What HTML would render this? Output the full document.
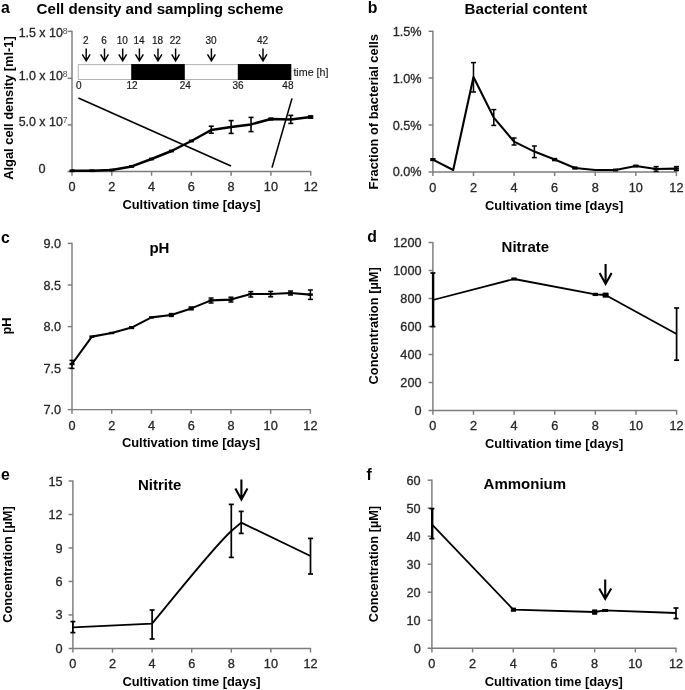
<!DOCTYPE html>
<html lang="en">
<head>
<meta charset="utf-8">
<title>Cultivation figure</title>
<style>
html,body{margin:0;padding:0;background:#fff;}
body{width:685px;height:690px;overflow:hidden;}
svg{display:block;font-family:"Liberation Sans",Arial,Helvetica,sans-serif;}
</style>
</head>
<body>
<svg width="685" height="690" viewBox="0 0 685 690">
<defs><filter id="soft" x="0" y="0" width="100%" height="100%" filterUnits="userSpaceOnUse"><feGaussianBlur stdDeviation="0.48"/></filter></defs>
<rect x="0" y="0" width="685" height="690" fill="#ffffff"/>
<g filter="url(#soft)">
<text x="0.90" y="12.60" font-size="15.8" text-anchor="start" font-weight="bold" fill="#000" >a</text>
<text x="36.60" y="13.60" font-size="15.12" text-anchor="start" font-weight="bold" fill="#000" >Cell density and sampling scheme</text>
<line x1="72.00" y1="30.80" x2="72.00" y2="175.70" stroke="#7c7c7c" stroke-width="1.45" />
<line x1="67.70" y1="171.50" x2="311.30" y2="171.50" stroke="#7c7c7c" stroke-width="1.45" />
<line x1="67.70" y1="31.40" x2="72.00" y2="31.40" stroke="#7c7c7c" stroke-width="1.45" />
<line x1="67.70" y1="78.30" x2="72.00" y2="78.30" stroke="#7c7c7c" stroke-width="1.45" />
<line x1="67.70" y1="124.90" x2="72.00" y2="124.90" stroke="#7c7c7c" stroke-width="1.45" />
<text x="72.00" y="191.15" font-size="12.7" text-anchor="middle" stroke="#262626" stroke-width="0.3" fill="#262626" >0</text>
<line x1="111.78" y1="171.50" x2="111.78" y2="175.70" stroke="#7c7c7c" stroke-width="1.45" />
<text x="111.78" y="191.15" font-size="12.7" text-anchor="middle" stroke="#262626" stroke-width="0.3" fill="#262626" >2</text>
<line x1="151.57" y1="171.50" x2="151.57" y2="175.70" stroke="#7c7c7c" stroke-width="1.45" />
<text x="151.57" y="191.15" font-size="12.7" text-anchor="middle" stroke="#262626" stroke-width="0.3" fill="#262626" >4</text>
<line x1="191.35" y1="171.50" x2="191.35" y2="175.70" stroke="#7c7c7c" stroke-width="1.45" />
<text x="191.35" y="191.15" font-size="12.7" text-anchor="middle" stroke="#262626" stroke-width="0.3" fill="#262626" >6</text>
<line x1="231.13" y1="171.50" x2="231.13" y2="175.70" stroke="#7c7c7c" stroke-width="1.45" />
<text x="231.13" y="191.15" font-size="12.7" text-anchor="middle" stroke="#262626" stroke-width="0.3" fill="#262626" >8</text>
<line x1="270.92" y1="171.50" x2="270.92" y2="175.70" stroke="#7c7c7c" stroke-width="1.45" />
<text x="270.92" y="191.15" font-size="12.7" text-anchor="middle" stroke="#262626" stroke-width="0.3" fill="#262626" >10</text>
<line x1="310.70" y1="171.50" x2="310.70" y2="175.70" stroke="#7c7c7c" stroke-width="1.45" />
<text x="310.70" y="191.15" font-size="12.7" text-anchor="middle" stroke="#262626" stroke-width="0.3" fill="#262626" >12</text>
<text x="18.7" y="37.00" font-size="12.4" fill="#262626" stroke="#262626" stroke-width="0.3">1.5 x 10<tspan font-size="8.6" dy="-2.9" fill="#4a4a4a" stroke="none">8</tspan></text>
<text x="18.7" y="79.70" font-size="12.4" fill="#262626" stroke="#262626" stroke-width="0.3">1.0 x 10<tspan font-size="8.6" dy="-2.9" fill="#4a4a4a" stroke="none">8</tspan></text>
<text x="18.7" y="126.10" font-size="12.4" fill="#262626" stroke="#262626" stroke-width="0.3">5.0 x 10<tspan font-size="8.6" dy="-2.9" fill="#4a4a4a" stroke="none">7</tspan></text>
<text x="45.60" y="172.80" font-size="12.7" text-anchor="end" stroke="#262626" stroke-width="0.3" fill="#262626" >0</text>
<text transform="translate(13.30,108.00) rotate(-90)" font-size="12.85" text-anchor="middle" font-weight="bold" fill="#000">Algal cell density [ml-1]</text>
<text x="191.50" y="208.80" font-size="12.9" text-anchor="middle" font-weight="bold" fill="#000" >Cultivation time [days]</text>
<line x1="78.40" y1="98.00" x2="231.00" y2="166.00" stroke="#000" stroke-width="1.6" />
<line x1="292.00" y1="98.40" x2="272.00" y2="167.60" stroke="#000" stroke-width="1.6" />
<path d="M72.00,170.80 L91.89,170.70 L111.78,170.00 L131.68,166.40 L151.57,159.00 L171.46,151.00 L191.35,141.00 L211.24,130.00 L231.13,127.00 L251.02,124.40 L270.92,119.00 L290.81,119.40 L310.70,117.00" fill="none" stroke="#000" stroke-width="2.5" stroke-linejoin="round" stroke-linecap="butt"/>
<rect x="69.50" y="169.40" width="5" height="2.8" fill="#000"/>
<rect x="89.39" y="169.30" width="5" height="2.8" fill="#000"/>
<rect x="109.28" y="168.60" width="5" height="2.8" fill="#000"/>
<rect x="129.18" y="165.00" width="5" height="2.8" fill="#000"/>
<rect x="149.07" y="157.60" width="5" height="2.8" fill="#000"/>
<rect x="168.96" y="149.60" width="5" height="2.8" fill="#000"/>
<rect x="188.85" y="139.60" width="5" height="2.8" fill="#000"/>
<rect x="268.42" y="117.60" width="5" height="2.8" fill="#000"/>
<rect x="308.20" y="115.60" width="5" height="2.8" fill="#000"/>
<line x1="211.24" y1="126.20" x2="211.24" y2="133.20" stroke="#000" stroke-width="1.6" />
<line x1="208.74" y1="126.20" x2="213.74" y2="126.20" stroke="#000" stroke-width="1.6" />
<line x1="208.74" y1="133.20" x2="213.74" y2="133.20" stroke="#000" stroke-width="1.6" />
<line x1="231.13" y1="120.60" x2="231.13" y2="133.40" stroke="#000" stroke-width="1.6" />
<line x1="228.63" y1="120.60" x2="233.63" y2="120.60" stroke="#000" stroke-width="1.6" />
<line x1="228.63" y1="133.40" x2="233.63" y2="133.40" stroke="#000" stroke-width="1.6" />
<line x1="251.02" y1="117.40" x2="251.02" y2="131.60" stroke="#000" stroke-width="1.6" />
<line x1="248.52" y1="117.40" x2="253.52" y2="117.40" stroke="#000" stroke-width="1.6" />
<line x1="248.52" y1="131.60" x2="253.52" y2="131.60" stroke="#000" stroke-width="1.6" />
<line x1="270.92" y1="118.40" x2="270.92" y2="119.60" stroke="#000" stroke-width="1.6" />
<line x1="268.42" y1="118.40" x2="273.42" y2="118.40" stroke="#000" stroke-width="1.6" />
<line x1="268.42" y1="119.60" x2="273.42" y2="119.60" stroke="#000" stroke-width="1.6" />
<line x1="290.81" y1="115.40" x2="290.81" y2="123.40" stroke="#000" stroke-width="1.6" />
<line x1="288.31" y1="115.40" x2="293.31" y2="115.40" stroke="#000" stroke-width="1.6" />
<line x1="288.31" y1="123.40" x2="293.31" y2="123.40" stroke="#000" stroke-width="1.6" />
<line x1="310.70" y1="115.90" x2="310.70" y2="118.10" stroke="#000" stroke-width="1.6" />
<line x1="308.20" y1="115.90" x2="313.20" y2="115.90" stroke="#000" stroke-width="1.6" />
<line x1="308.20" y1="118.10" x2="313.20" y2="118.10" stroke="#000" stroke-width="1.6" />
<rect x="78.3" y="64.6" width="212.7" height="14.9" fill="#fff" stroke="#b4b4b4" stroke-width="1"/>
<rect x="131.2" y="64.1" width="53.6" height="15.9" fill="#000"/>
<rect x="237.8" y="64.1" width="53.4" height="15.9" fill="#000"/>
<text x="78.90" y="89.00" font-size="10" text-anchor="middle" stroke="#1a1a1a" stroke-width="0.2" fill="#1a1a1a" >0</text>
<text x="132.00" y="89.00" font-size="10" text-anchor="middle" stroke="#1a1a1a" stroke-width="0.2" fill="#1a1a1a" >12</text>
<text x="185.30" y="89.00" font-size="10" text-anchor="middle" stroke="#1a1a1a" stroke-width="0.2" fill="#1a1a1a" >24</text>
<text x="238.00" y="89.00" font-size="10" text-anchor="middle" stroke="#1a1a1a" stroke-width="0.2" fill="#1a1a1a" >36</text>
<text x="287.90" y="89.00" font-size="10" text-anchor="middle" stroke="#1a1a1a" stroke-width="0.2" fill="#1a1a1a" >48</text>
<text x="85.80" y="43.50" font-size="10" text-anchor="middle" stroke="#1a1a1a" stroke-width="0.2" fill="#1a1a1a" >2</text>
<path d="M86.20,48.40 L86.20,60.30 M82.30,54.40 L86.20,60.90 L90.10,54.40" fill="none" stroke="#000" stroke-width="1.45" stroke-linejoin="miter" stroke-linecap="butt"/>
<text x="104.10" y="43.50" font-size="10" text-anchor="middle" stroke="#1a1a1a" stroke-width="0.2" fill="#1a1a1a" >6</text>
<path d="M104.50,48.40 L104.50,60.30 M100.60,54.40 L104.50,60.90 L108.40,54.40" fill="none" stroke="#000" stroke-width="1.45" stroke-linejoin="miter" stroke-linecap="butt"/>
<text x="122.30" y="43.50" font-size="10" text-anchor="middle" stroke="#1a1a1a" stroke-width="0.2" fill="#1a1a1a" >10</text>
<path d="M122.70,48.40 L122.70,60.30 M118.80,54.40 L122.70,60.90 L126.60,54.40" fill="none" stroke="#000" stroke-width="1.45" stroke-linejoin="miter" stroke-linecap="butt"/>
<text x="139.00" y="43.50" font-size="10" text-anchor="middle" stroke="#1a1a1a" stroke-width="0.2" fill="#1a1a1a" >14</text>
<path d="M139.40,48.40 L139.40,60.30 M135.50,54.40 L139.40,60.90 L143.30,54.40" fill="none" stroke="#000" stroke-width="1.45" stroke-linejoin="miter" stroke-linecap="butt"/>
<text x="157.60" y="43.50" font-size="10" text-anchor="middle" stroke="#1a1a1a" stroke-width="0.2" fill="#1a1a1a" >18</text>
<path d="M158.00,48.40 L158.00,60.30 M154.10,54.40 L158.00,60.90 L161.90,54.40" fill="none" stroke="#000" stroke-width="1.45" stroke-linejoin="miter" stroke-linecap="butt"/>
<text x="175.20" y="43.50" font-size="10" text-anchor="middle" stroke="#1a1a1a" stroke-width="0.2" fill="#1a1a1a" >22</text>
<path d="M175.60,48.40 L175.60,60.30 M171.70,54.40 L175.60,60.90 L179.50,54.40" fill="none" stroke="#000" stroke-width="1.45" stroke-linejoin="miter" stroke-linecap="butt"/>
<text x="211.00" y="43.50" font-size="10" text-anchor="middle" stroke="#1a1a1a" stroke-width="0.2" fill="#1a1a1a" >30</text>
<path d="M211.40,48.40 L211.40,60.30 M207.50,54.40 L211.40,60.90 L215.30,54.40" fill="none" stroke="#000" stroke-width="1.45" stroke-linejoin="miter" stroke-linecap="butt"/>
<text x="262.60" y="43.50" font-size="10" text-anchor="middle" stroke="#1a1a1a" stroke-width="0.2" fill="#1a1a1a" >42</text>
<path d="M263.00,48.40 L263.00,60.30 M259.10,54.40 L263.00,60.90 L266.90,54.40" fill="none" stroke="#000" stroke-width="1.45" stroke-linejoin="miter" stroke-linecap="butt"/>
<text x="293.40" y="75.90" font-size="10.7" text-anchor="start" stroke="#1a1a1a" stroke-width="0.15" fill="#1a1a1a" >time [h]</text>
<text x="367.70" y="12.70" font-size="15.8" text-anchor="start" font-weight="bold" fill="#000" >b</text>
<text x="464.60" y="13.60" font-size="15.12" text-anchor="start" font-weight="bold" fill="#000" >Bacterial content</text>
<line x1="432.90" y1="30.70" x2="432.90" y2="176.10" stroke="#7c7c7c" stroke-width="1.45" />
<line x1="428.60" y1="171.90" x2="677.00" y2="171.90" stroke="#7c7c7c" stroke-width="1.45" />
<line x1="428.60" y1="31.30" x2="432.90" y2="31.30" stroke="#7c7c7c" stroke-width="1.45" />
<text x="421.60" y="35.85" font-size="12.7" text-anchor="end" stroke="#262626" stroke-width="0.3" fill="#262626" >1.5%</text>
<line x1="428.60" y1="78.00" x2="432.90" y2="78.00" stroke="#7c7c7c" stroke-width="1.45" />
<text x="421.60" y="82.55" font-size="12.7" text-anchor="end" stroke="#262626" stroke-width="0.3" fill="#262626" >1.0%</text>
<line x1="428.60" y1="125.00" x2="432.90" y2="125.00" stroke="#7c7c7c" stroke-width="1.45" />
<text x="421.60" y="129.55" font-size="12.7" text-anchor="end" stroke="#262626" stroke-width="0.3" fill="#262626" >0.5%</text>
<text x="421.60" y="176.45" font-size="12.7" text-anchor="end" stroke="#262626" stroke-width="0.3" fill="#262626" >0.0%</text>
<text x="432.90" y="191.65" font-size="12.7" text-anchor="middle" stroke="#262626" stroke-width="0.3" fill="#262626" >0</text>
<line x1="473.48" y1="171.90" x2="473.48" y2="176.10" stroke="#7c7c7c" stroke-width="1.45" />
<text x="473.48" y="191.65" font-size="12.7" text-anchor="middle" stroke="#262626" stroke-width="0.3" fill="#262626" >2</text>
<line x1="514.07" y1="171.90" x2="514.07" y2="176.10" stroke="#7c7c7c" stroke-width="1.45" />
<text x="514.07" y="191.65" font-size="12.7" text-anchor="middle" stroke="#262626" stroke-width="0.3" fill="#262626" >4</text>
<line x1="554.65" y1="171.90" x2="554.65" y2="176.10" stroke="#7c7c7c" stroke-width="1.45" />
<text x="554.65" y="191.65" font-size="12.7" text-anchor="middle" stroke="#262626" stroke-width="0.3" fill="#262626" >6</text>
<line x1="595.23" y1="171.90" x2="595.23" y2="176.10" stroke="#7c7c7c" stroke-width="1.45" />
<text x="595.23" y="191.65" font-size="12.7" text-anchor="middle" stroke="#262626" stroke-width="0.3" fill="#262626" >8</text>
<line x1="635.82" y1="171.90" x2="635.82" y2="176.10" stroke="#7c7c7c" stroke-width="1.45" />
<text x="635.82" y="191.65" font-size="12.7" text-anchor="middle" stroke="#262626" stroke-width="0.3" fill="#262626" >10</text>
<line x1="676.40" y1="171.90" x2="676.40" y2="176.10" stroke="#7c7c7c" stroke-width="1.45" />
<text x="676.40" y="191.65" font-size="12.7" text-anchor="middle" stroke="#262626" stroke-width="0.3" fill="#262626" >12</text>
<text transform="translate(378.10,111.70) rotate(-90)" font-size="12.9" text-anchor="middle" font-weight="bold" fill="#000">Fraction of bacterial cells</text>
<text x="554.20" y="209.60" font-size="12.9" text-anchor="middle" font-weight="bold" fill="#000" >Cultivation time [days]</text>
<path d="M432.90,159.60 L453.19,170.00 L473.48,77.00 L493.77,117.60 L514.07,141.60 L534.36,151.60 L554.65,159.60 L574.94,168.00 L595.23,170.00 L615.52,170.00 L635.82,166.00 L656.11,169.00 L676.40,168.60" fill="none" stroke="#000" stroke-width="2.1" stroke-linejoin="round" stroke-linecap="butt"/>
<rect x="430.40" y="158.40" width="5" height="2.4" fill="#000"/>
<rect x="552.15" y="158.40" width="5" height="2.4" fill="#000"/>
<rect x="572.44" y="166.80" width="5" height="2.4" fill="#000"/>
<rect x="613.02" y="168.80" width="5" height="2.4" fill="#000"/>
<rect x="633.32" y="164.80" width="5" height="2.4" fill="#000"/>
<rect x="653.61" y="167.80" width="5" height="2.4" fill="#000"/>
<rect x="673.90" y="167.40" width="5" height="2.4" fill="#000"/>
<line x1="432.90" y1="158.80" x2="432.90" y2="160.40" stroke="#000" stroke-width="1.5" />
<line x1="430.40" y1="158.80" x2="435.40" y2="158.80" stroke="#000" stroke-width="1.5" />
<line x1="430.40" y1="160.40" x2="435.40" y2="160.40" stroke="#000" stroke-width="1.5" />
<line x1="473.48" y1="62.60" x2="473.48" y2="92.00" stroke="#000" stroke-width="1.5" />
<line x1="470.98" y1="62.60" x2="475.98" y2="62.60" stroke="#000" stroke-width="1.5" />
<line x1="470.98" y1="92.00" x2="475.98" y2="92.00" stroke="#000" stroke-width="1.5" />
<line x1="493.77" y1="109.60" x2="493.77" y2="125.40" stroke="#000" stroke-width="1.5" />
<line x1="491.27" y1="109.60" x2="496.27" y2="109.60" stroke="#000" stroke-width="1.5" />
<line x1="491.27" y1="125.40" x2="496.27" y2="125.40" stroke="#000" stroke-width="1.5" />
<line x1="514.07" y1="138.00" x2="514.07" y2="145.00" stroke="#000" stroke-width="1.5" />
<line x1="511.57" y1="138.00" x2="516.57" y2="138.00" stroke="#000" stroke-width="1.5" />
<line x1="511.57" y1="145.00" x2="516.57" y2="145.00" stroke="#000" stroke-width="1.5" />
<line x1="534.36" y1="146.00" x2="534.36" y2="157.60" stroke="#000" stroke-width="1.5" />
<line x1="531.86" y1="146.00" x2="536.86" y2="146.00" stroke="#000" stroke-width="1.5" />
<line x1="531.86" y1="157.60" x2="536.86" y2="157.60" stroke="#000" stroke-width="1.5" />
<line x1="554.65" y1="158.60" x2="554.65" y2="160.60" stroke="#000" stroke-width="1.5" />
<line x1="552.15" y1="158.60" x2="557.15" y2="158.60" stroke="#000" stroke-width="1.5" />
<line x1="552.15" y1="160.60" x2="557.15" y2="160.60" stroke="#000" stroke-width="1.5" />
<line x1="574.94" y1="167.20" x2="574.94" y2="168.80" stroke="#000" stroke-width="1.5" />
<line x1="572.44" y1="167.20" x2="577.44" y2="167.20" stroke="#000" stroke-width="1.5" />
<line x1="572.44" y1="168.80" x2="577.44" y2="168.80" stroke="#000" stroke-width="1.5" />
<line x1="615.52" y1="169.40" x2="615.52" y2="170.60" stroke="#000" stroke-width="1.5" />
<line x1="613.02" y1="169.40" x2="618.02" y2="169.40" stroke="#000" stroke-width="1.5" />
<line x1="613.02" y1="170.60" x2="618.02" y2="170.60" stroke="#000" stroke-width="1.5" />
<line x1="635.82" y1="165.40" x2="635.82" y2="166.60" stroke="#000" stroke-width="1.5" />
<line x1="633.32" y1="165.40" x2="638.32" y2="165.40" stroke="#000" stroke-width="1.5" />
<line x1="633.32" y1="166.60" x2="638.32" y2="166.60" stroke="#000" stroke-width="1.5" />
<line x1="656.11" y1="166.60" x2="656.11" y2="171.40" stroke="#000" stroke-width="1.5" />
<line x1="653.61" y1="166.60" x2="658.61" y2="166.60" stroke="#000" stroke-width="1.5" />
<line x1="653.61" y1="171.40" x2="658.61" y2="171.40" stroke="#000" stroke-width="1.5" />
<line x1="676.40" y1="166.60" x2="676.40" y2="170.60" stroke="#000" stroke-width="1.5" />
<line x1="673.90" y1="166.60" x2="678.90" y2="166.60" stroke="#000" stroke-width="1.5" />
<line x1="673.90" y1="170.60" x2="678.90" y2="170.60" stroke="#000" stroke-width="1.5" />
<text x="0.90" y="242.60" font-size="15.8" text-anchor="start" font-weight="bold" fill="#000" >c</text>
<text x="149.40" y="253.00" font-size="15" text-anchor="start" font-weight="bold" fill="#000" >pH</text>
<line x1="72.00" y1="242.80" x2="72.00" y2="413.80" stroke="#7c7c7c" stroke-width="1.45" />
<line x1="67.70" y1="409.60" x2="311.00" y2="409.60" stroke="#7c7c7c" stroke-width="1.45" />
<line x1="67.70" y1="243.40" x2="72.00" y2="243.40" stroke="#7c7c7c" stroke-width="1.45" />
<text x="61.10" y="247.95" font-size="12.7" text-anchor="end" stroke="#262626" stroke-width="0.3" fill="#262626" >9.0</text>
<line x1="67.70" y1="285.00" x2="72.00" y2="285.00" stroke="#7c7c7c" stroke-width="1.45" />
<text x="61.10" y="289.55" font-size="12.7" text-anchor="end" stroke="#262626" stroke-width="0.3" fill="#262626" >8.5</text>
<line x1="67.70" y1="326.60" x2="72.00" y2="326.60" stroke="#7c7c7c" stroke-width="1.45" />
<text x="61.10" y="331.15" font-size="12.7" text-anchor="end" stroke="#262626" stroke-width="0.3" fill="#262626" >8.0</text>
<line x1="67.70" y1="368.10" x2="72.00" y2="368.10" stroke="#7c7c7c" stroke-width="1.45" />
<text x="61.10" y="372.65" font-size="12.7" text-anchor="end" stroke="#262626" stroke-width="0.3" fill="#262626" >7.5</text>
<text x="61.10" y="414.15" font-size="12.7" text-anchor="end" stroke="#262626" stroke-width="0.3" fill="#262626" >7.0</text>
<text x="72.00" y="430.20" font-size="12.7" text-anchor="middle" stroke="#262626" stroke-width="0.3" fill="#262626" >0</text>
<line x1="111.73" y1="409.60" x2="111.73" y2="413.80" stroke="#7c7c7c" stroke-width="1.45" />
<text x="111.73" y="430.20" font-size="12.7" text-anchor="middle" stroke="#262626" stroke-width="0.3" fill="#262626" >2</text>
<line x1="151.47" y1="409.60" x2="151.47" y2="413.80" stroke="#7c7c7c" stroke-width="1.45" />
<text x="151.47" y="430.20" font-size="12.7" text-anchor="middle" stroke="#262626" stroke-width="0.3" fill="#262626" >4</text>
<line x1="191.20" y1="409.60" x2="191.20" y2="413.80" stroke="#7c7c7c" stroke-width="1.45" />
<text x="191.20" y="430.20" font-size="12.7" text-anchor="middle" stroke="#262626" stroke-width="0.3" fill="#262626" >6</text>
<line x1="230.93" y1="409.60" x2="230.93" y2="413.80" stroke="#7c7c7c" stroke-width="1.45" />
<text x="230.93" y="430.20" font-size="12.7" text-anchor="middle" stroke="#262626" stroke-width="0.3" fill="#262626" >8</text>
<line x1="270.67" y1="409.60" x2="270.67" y2="413.80" stroke="#7c7c7c" stroke-width="1.45" />
<text x="270.67" y="430.20" font-size="12.7" text-anchor="middle" stroke="#262626" stroke-width="0.3" fill="#262626" >10</text>
<line x1="310.40" y1="409.60" x2="310.40" y2="413.80" stroke="#7c7c7c" stroke-width="1.45" />
<text x="310.40" y="430.20" font-size="12.7" text-anchor="middle" stroke="#262626" stroke-width="0.3" fill="#262626" >12</text>
<text transform="translate(10.80,326.00) rotate(-90)" font-size="12.9" text-anchor="middle" font-weight="bold" fill="#000">pH</text>
<text x="191.00" y="447.40" font-size="12.9" text-anchor="middle" font-weight="bold" fill="#000" >Cultivation time [days]</text>
<path d="M72.00,364.00 L91.87,336.60 L111.73,333.00 L131.60,327.60 L151.47,317.40 L171.33,315.00 L191.20,308.40 L211.07,300.40 L230.93,299.60 L250.80,294.00 L270.67,294.00 L290.53,293.00 L310.40,294.60" fill="none" stroke="#000" stroke-width="2.1" stroke-linejoin="round" stroke-linecap="butt"/>
<rect x="69.50" y="362.80" width="5" height="2.4" fill="#000"/>
<rect x="89.37" y="335.40" width="5" height="2.4" fill="#000"/>
<rect x="109.23" y="331.80" width="5" height="2.4" fill="#000"/>
<rect x="129.10" y="326.40" width="5" height="2.4" fill="#000"/>
<rect x="148.97" y="316.20" width="5" height="2.4" fill="#000"/>
<rect x="168.83" y="313.80" width="5" height="2.4" fill="#000"/>
<rect x="188.70" y="307.20" width="5" height="2.4" fill="#000"/>
<rect x="208.57" y="299.20" width="5" height="2.4" fill="#000"/>
<rect x="228.43" y="298.40" width="5" height="2.4" fill="#000"/>
<rect x="248.30" y="292.80" width="5" height="2.4" fill="#000"/>
<rect x="268.17" y="292.80" width="5" height="2.4" fill="#000"/>
<rect x="288.03" y="291.80" width="5" height="2.4" fill="#000"/>
<rect x="307.90" y="293.40" width="5" height="2.4" fill="#000"/>
<line x1="72.00" y1="360.40" x2="72.00" y2="368.40" stroke="#000" stroke-width="1.5" />
<line x1="69.50" y1="360.40" x2="74.50" y2="360.40" stroke="#000" stroke-width="1.5" />
<line x1="69.50" y1="368.40" x2="74.50" y2="368.40" stroke="#000" stroke-width="1.5" />
<line x1="131.60" y1="326.80" x2="131.60" y2="328.40" stroke="#000" stroke-width="1.5" />
<line x1="129.10" y1="326.80" x2="134.10" y2="326.80" stroke="#000" stroke-width="1.5" />
<line x1="129.10" y1="328.40" x2="134.10" y2="328.40" stroke="#000" stroke-width="1.5" />
<line x1="171.33" y1="313.60" x2="171.33" y2="316.40" stroke="#000" stroke-width="1.5" />
<line x1="168.83" y1="313.60" x2="173.83" y2="313.60" stroke="#000" stroke-width="1.5" />
<line x1="168.83" y1="316.40" x2="173.83" y2="316.40" stroke="#000" stroke-width="1.5" />
<line x1="191.20" y1="307.00" x2="191.20" y2="309.80" stroke="#000" stroke-width="1.5" />
<line x1="188.70" y1="307.00" x2="193.70" y2="307.00" stroke="#000" stroke-width="1.5" />
<line x1="188.70" y1="309.80" x2="193.70" y2="309.80" stroke="#000" stroke-width="1.5" />
<line x1="211.07" y1="298.00" x2="211.07" y2="303.00" stroke="#000" stroke-width="1.5" />
<line x1="208.57" y1="298.00" x2="213.57" y2="298.00" stroke="#000" stroke-width="1.5" />
<line x1="208.57" y1="303.00" x2="213.57" y2="303.00" stroke="#000" stroke-width="1.5" />
<line x1="230.93" y1="297.20" x2="230.93" y2="302.00" stroke="#000" stroke-width="1.5" />
<line x1="228.43" y1="297.20" x2="233.43" y2="297.20" stroke="#000" stroke-width="1.5" />
<line x1="228.43" y1="302.00" x2="233.43" y2="302.00" stroke="#000" stroke-width="1.5" />
<line x1="250.80" y1="291.60" x2="250.80" y2="297.00" stroke="#000" stroke-width="1.5" />
<line x1="248.30" y1="291.60" x2="253.30" y2="291.60" stroke="#000" stroke-width="1.5" />
<line x1="248.30" y1="297.00" x2="253.30" y2="297.00" stroke="#000" stroke-width="1.5" />
<line x1="270.67" y1="291.40" x2="270.67" y2="296.80" stroke="#000" stroke-width="1.5" />
<line x1="268.17" y1="291.40" x2="273.17" y2="291.40" stroke="#000" stroke-width="1.5" />
<line x1="268.17" y1="296.80" x2="273.17" y2="296.80" stroke="#000" stroke-width="1.5" />
<line x1="290.53" y1="291.00" x2="290.53" y2="295.00" stroke="#000" stroke-width="1.5" />
<line x1="288.03" y1="291.00" x2="293.03" y2="291.00" stroke="#000" stroke-width="1.5" />
<line x1="288.03" y1="295.00" x2="293.03" y2="295.00" stroke="#000" stroke-width="1.5" />
<line x1="310.40" y1="290.00" x2="310.40" y2="299.40" stroke="#000" stroke-width="1.5" />
<line x1="307.90" y1="290.00" x2="312.90" y2="290.00" stroke="#000" stroke-width="1.5" />
<line x1="307.90" y1="299.40" x2="312.90" y2="299.40" stroke="#000" stroke-width="1.5" />
<text x="367.20" y="241.90" font-size="15.8" text-anchor="start" font-weight="bold" fill="#000" >d</text>
<text x="501.60" y="252.00" font-size="15" text-anchor="start" font-weight="bold" fill="#000" >Nitrate</text>
<line x1="432.90" y1="241.90" x2="432.90" y2="414.70" stroke="#7c7c7c" stroke-width="1.45" />
<line x1="428.60" y1="410.50" x2="677.20" y2="410.50" stroke="#7c7c7c" stroke-width="1.45" />
<line x1="428.60" y1="242.50" x2="432.90" y2="242.50" stroke="#7c7c7c" stroke-width="1.45" />
<text x="421.50" y="247.05" font-size="12.7" text-anchor="end" stroke="#262626" stroke-width="0.3" fill="#262626" >1200</text>
<line x1="428.60" y1="270.50" x2="432.90" y2="270.50" stroke="#7c7c7c" stroke-width="1.45" />
<text x="421.50" y="275.05" font-size="12.7" text-anchor="end" stroke="#262626" stroke-width="0.3" fill="#262626" >1000</text>
<line x1="428.60" y1="298.50" x2="432.90" y2="298.50" stroke="#7c7c7c" stroke-width="1.45" />
<text x="421.50" y="303.05" font-size="12.7" text-anchor="end" stroke="#262626" stroke-width="0.3" fill="#262626" >800</text>
<line x1="428.60" y1="326.50" x2="432.90" y2="326.50" stroke="#7c7c7c" stroke-width="1.45" />
<text x="421.50" y="331.05" font-size="12.7" text-anchor="end" stroke="#262626" stroke-width="0.3" fill="#262626" >600</text>
<line x1="428.60" y1="354.50" x2="432.90" y2="354.50" stroke="#7c7c7c" stroke-width="1.45" />
<text x="421.50" y="359.05" font-size="12.7" text-anchor="end" stroke="#262626" stroke-width="0.3" fill="#262626" >400</text>
<line x1="428.60" y1="382.50" x2="432.90" y2="382.50" stroke="#7c7c7c" stroke-width="1.45" />
<text x="421.50" y="387.05" font-size="12.7" text-anchor="end" stroke="#262626" stroke-width="0.3" fill="#262626" >200</text>
<text x="421.50" y="415.05" font-size="12.7" text-anchor="end" stroke="#262626" stroke-width="0.3" fill="#262626" >0</text>
<text x="432.90" y="430.45" font-size="12.7" text-anchor="middle" stroke="#262626" stroke-width="0.3" fill="#262626" >0</text>
<line x1="473.52" y1="410.50" x2="473.52" y2="414.70" stroke="#7c7c7c" stroke-width="1.45" />
<text x="473.52" y="430.45" font-size="12.7" text-anchor="middle" stroke="#262626" stroke-width="0.3" fill="#262626" >2</text>
<line x1="514.13" y1="410.50" x2="514.13" y2="414.70" stroke="#7c7c7c" stroke-width="1.45" />
<text x="514.13" y="430.45" font-size="12.7" text-anchor="middle" stroke="#262626" stroke-width="0.3" fill="#262626" >4</text>
<line x1="554.75" y1="410.50" x2="554.75" y2="414.70" stroke="#7c7c7c" stroke-width="1.45" />
<text x="554.75" y="430.45" font-size="12.7" text-anchor="middle" stroke="#262626" stroke-width="0.3" fill="#262626" >6</text>
<line x1="595.37" y1="410.50" x2="595.37" y2="414.70" stroke="#7c7c7c" stroke-width="1.45" />
<text x="595.37" y="430.45" font-size="12.7" text-anchor="middle" stroke="#262626" stroke-width="0.3" fill="#262626" >8</text>
<line x1="635.98" y1="410.50" x2="635.98" y2="414.70" stroke="#7c7c7c" stroke-width="1.45" />
<text x="635.98" y="430.45" font-size="12.7" text-anchor="middle" stroke="#262626" stroke-width="0.3" fill="#262626" >10</text>
<line x1="676.60" y1="410.50" x2="676.60" y2="414.70" stroke="#7c7c7c" stroke-width="1.45" />
<text x="676.60" y="430.45" font-size="12.7" text-anchor="middle" stroke="#262626" stroke-width="0.3" fill="#262626" >12</text>
<text transform="translate(378.00,325.85) rotate(-90)" font-size="12.85" text-anchor="middle" font-weight="bold" fill="#000">Concentration [µM]</text>
<text x="554.20" y="448.40" font-size="12.9" text-anchor="middle" font-weight="bold" fill="#000" >Cultivation time [days]</text>
<path d="M432.90,300.00 L514.13,279.00 L595.37,294.40 L605.52,295.00 L676.60,334.00" fill="none" stroke="#000" stroke-width="1.8" stroke-linejoin="round" stroke-linecap="butt"/>
<line x1="432.90" y1="273.00" x2="432.90" y2="326.60" stroke="#000" stroke-width="1.7" />
<line x1="430.40" y1="273.00" x2="435.40" y2="273.00" stroke="#000" stroke-width="1.7" />
<line x1="430.40" y1="326.60" x2="435.40" y2="326.60" stroke="#000" stroke-width="1.7" />
<line x1="514.13" y1="278.40" x2="514.13" y2="279.60" stroke="#000" stroke-width="1.7" />
<line x1="511.63" y1="278.40" x2="516.63" y2="278.40" stroke="#000" stroke-width="1.7" />
<line x1="511.63" y1="279.60" x2="516.63" y2="279.60" stroke="#000" stroke-width="1.7" />
<line x1="595.37" y1="293.80" x2="595.37" y2="295.20" stroke="#000" stroke-width="1.7" />
<line x1="592.87" y1="293.80" x2="597.87" y2="293.80" stroke="#000" stroke-width="1.7" />
<line x1="592.87" y1="295.20" x2="597.87" y2="295.20" stroke="#000" stroke-width="1.7" />
<line x1="605.52" y1="293.60" x2="605.52" y2="296.60" stroke="#000" stroke-width="1.7" />
<line x1="603.02" y1="293.60" x2="608.02" y2="293.60" stroke="#000" stroke-width="1.7" />
<line x1="603.02" y1="296.60" x2="608.02" y2="296.60" stroke="#000" stroke-width="1.7" />
<line x1="676.60" y1="308.00" x2="676.60" y2="360.20" stroke="#000" stroke-width="1.7" />
<line x1="674.10" y1="308.00" x2="679.10" y2="308.00" stroke="#000" stroke-width="1.7" />
<line x1="674.10" y1="360.20" x2="679.10" y2="360.20" stroke="#000" stroke-width="1.7" />
<line x1="433.10" y1="273.00" x2="433.10" y2="326.60" stroke="#000" stroke-width="2.4" />
<path d="M605.60,264.00 L605.60,283.30 M599.60,272.90 L605.60,283.90 L611.60,272.90" fill="none" stroke="#000" stroke-width="2.1" stroke-linejoin="miter" stroke-linecap="butt"/>
<rect x="592.70" y="292.80" width="5" height="3.2" fill="#000"/>
<rect x="602.60" y="292.80" width="6" height="4.6" fill="#000"/>
<rect x="511.50" y="277.80" width="4.6" height="2.4" fill="#000"/>
<text x="0.90" y="479.60" font-size="15.8" text-anchor="start" font-weight="bold" fill="#000" >e</text>
<text x="138.00" y="490.40" font-size="15" text-anchor="start" font-weight="bold" fill="#000" >Nitrite</text>
<line x1="72.90" y1="480.40" x2="72.90" y2="652.60" stroke="#7c7c7c" stroke-width="1.45" />
<line x1="68.60" y1="648.40" x2="311.10" y2="648.40" stroke="#7c7c7c" stroke-width="1.45" />
<line x1="68.60" y1="481.00" x2="72.90" y2="481.00" stroke="#7c7c7c" stroke-width="1.45" />
<text x="62.50" y="485.55" font-size="12.7" text-anchor="end" stroke="#262626" stroke-width="0.3" fill="#262626" >15</text>
<line x1="68.60" y1="514.48" x2="72.90" y2="514.48" stroke="#7c7c7c" stroke-width="1.45" />
<text x="62.50" y="519.03" font-size="12.7" text-anchor="end" stroke="#262626" stroke-width="0.3" fill="#262626" >12</text>
<line x1="68.60" y1="547.96" x2="72.90" y2="547.96" stroke="#7c7c7c" stroke-width="1.45" />
<text x="62.50" y="552.51" font-size="12.7" text-anchor="end" stroke="#262626" stroke-width="0.3" fill="#262626" >9</text>
<line x1="68.60" y1="581.44" x2="72.90" y2="581.44" stroke="#7c7c7c" stroke-width="1.45" />
<text x="62.50" y="585.99" font-size="12.7" text-anchor="end" stroke="#262626" stroke-width="0.3" fill="#262626" >6</text>
<line x1="68.60" y1="614.92" x2="72.90" y2="614.92" stroke="#7c7c7c" stroke-width="1.45" />
<text x="62.50" y="619.47" font-size="12.7" text-anchor="end" stroke="#262626" stroke-width="0.3" fill="#262626" >3</text>
<text x="62.50" y="652.95" font-size="12.7" text-anchor="end" stroke="#262626" stroke-width="0.3" fill="#262626" >0</text>
<text x="72.90" y="668.15" font-size="12.7" text-anchor="middle" stroke="#262626" stroke-width="0.3" fill="#262626" >0</text>
<line x1="112.50" y1="648.40" x2="112.50" y2="652.60" stroke="#7c7c7c" stroke-width="1.45" />
<text x="112.50" y="668.15" font-size="12.7" text-anchor="middle" stroke="#262626" stroke-width="0.3" fill="#262626" >2</text>
<line x1="152.10" y1="648.40" x2="152.10" y2="652.60" stroke="#7c7c7c" stroke-width="1.45" />
<text x="152.10" y="668.15" font-size="12.7" text-anchor="middle" stroke="#262626" stroke-width="0.3" fill="#262626" >4</text>
<line x1="191.70" y1="648.40" x2="191.70" y2="652.60" stroke="#7c7c7c" stroke-width="1.45" />
<text x="191.70" y="668.15" font-size="12.7" text-anchor="middle" stroke="#262626" stroke-width="0.3" fill="#262626" >6</text>
<line x1="231.30" y1="648.40" x2="231.30" y2="652.60" stroke="#7c7c7c" stroke-width="1.45" />
<text x="231.30" y="668.15" font-size="12.7" text-anchor="middle" stroke="#262626" stroke-width="0.3" fill="#262626" >8</text>
<line x1="270.90" y1="648.40" x2="270.90" y2="652.60" stroke="#7c7c7c" stroke-width="1.45" />
<text x="270.90" y="668.15" font-size="12.7" text-anchor="middle" stroke="#262626" stroke-width="0.3" fill="#262626" >10</text>
<line x1="310.50" y1="648.40" x2="310.50" y2="652.60" stroke="#7c7c7c" stroke-width="1.45" />
<text x="310.50" y="668.15" font-size="12.7" text-anchor="middle" stroke="#262626" stroke-width="0.3" fill="#262626" >12</text>
<text transform="translate(12.40,564.50) rotate(-90)" font-size="12.75" text-anchor="middle" font-weight="bold" fill="#000">Concentration [µM]</text>
<text x="191.50" y="685.60" font-size="12.9" text-anchor="middle" font-weight="bold" fill="#000" >Cultivation time [days]</text>
<path d="M72.90,627.40 L152.10,623.60 C178,592.5 212,549 231.30,531.00 L241.20,522.60 L310.50,556.00" fill="none" stroke="#000" stroke-width="1.8" stroke-linejoin="round" stroke-linecap="butt"/>
<line x1="72.90" y1="621.60" x2="72.90" y2="632.60" stroke="#000" stroke-width="1.7" />
<line x1="70.40" y1="621.60" x2="75.40" y2="621.60" stroke="#000" stroke-width="1.7" />
<line x1="70.40" y1="632.60" x2="75.40" y2="632.60" stroke="#000" stroke-width="1.7" />
<line x1="152.10" y1="610.00" x2="152.10" y2="639.00" stroke="#000" stroke-width="1.7" />
<line x1="149.60" y1="610.00" x2="154.60" y2="610.00" stroke="#000" stroke-width="1.7" />
<line x1="149.60" y1="639.00" x2="154.60" y2="639.00" stroke="#000" stroke-width="1.7" />
<line x1="231.30" y1="504.40" x2="231.30" y2="557.40" stroke="#000" stroke-width="1.7" />
<line x1="228.80" y1="504.40" x2="233.80" y2="504.40" stroke="#000" stroke-width="1.7" />
<line x1="228.80" y1="557.40" x2="233.80" y2="557.40" stroke="#000" stroke-width="1.7" />
<line x1="241.20" y1="511.40" x2="241.20" y2="533.40" stroke="#000" stroke-width="1.7" />
<line x1="238.70" y1="511.40" x2="243.70" y2="511.40" stroke="#000" stroke-width="1.7" />
<line x1="238.70" y1="533.40" x2="243.70" y2="533.40" stroke="#000" stroke-width="1.7" />
<line x1="310.50" y1="538.40" x2="310.50" y2="574.00" stroke="#000" stroke-width="1.7" />
<line x1="308.00" y1="538.40" x2="313.00" y2="538.40" stroke="#000" stroke-width="1.7" />
<line x1="308.00" y1="574.00" x2="313.00" y2="574.00" stroke="#000" stroke-width="1.7" />
<path d="M241.40,479.40 L241.40,498.90 M235.40,488.50 L241.40,499.50 L247.40,488.50" fill="none" stroke="#000" stroke-width="2.1" stroke-linejoin="miter" stroke-linecap="butt"/>
<text x="366.60" y="479.60" font-size="15.8" text-anchor="start" font-weight="bold" fill="#000" >f</text>
<text x="483.60" y="489.40" font-size="15" text-anchor="start" font-weight="bold" fill="#000" >Ammonium</text>
<line x1="431.90" y1="479.60" x2="431.90" y2="652.40" stroke="#7c7c7c" stroke-width="1.45" />
<line x1="427.60" y1="648.20" x2="676.60" y2="648.20" stroke="#7c7c7c" stroke-width="1.45" />
<line x1="427.60" y1="480.20" x2="431.90" y2="480.20" stroke="#7c7c7c" stroke-width="1.45" />
<text x="420.70" y="484.75" font-size="12.7" text-anchor="end" stroke="#262626" stroke-width="0.3" fill="#262626" >60</text>
<line x1="427.60" y1="508.20" x2="431.90" y2="508.20" stroke="#7c7c7c" stroke-width="1.45" />
<text x="420.70" y="512.75" font-size="12.7" text-anchor="end" stroke="#262626" stroke-width="0.3" fill="#262626" >50</text>
<line x1="427.60" y1="536.20" x2="431.90" y2="536.20" stroke="#7c7c7c" stroke-width="1.45" />
<text x="420.70" y="540.75" font-size="12.7" text-anchor="end" stroke="#262626" stroke-width="0.3" fill="#262626" >40</text>
<line x1="427.60" y1="564.20" x2="431.90" y2="564.20" stroke="#7c7c7c" stroke-width="1.45" />
<text x="420.70" y="568.75" font-size="12.7" text-anchor="end" stroke="#262626" stroke-width="0.3" fill="#262626" >30</text>
<line x1="427.60" y1="592.20" x2="431.90" y2="592.20" stroke="#7c7c7c" stroke-width="1.45" />
<text x="420.70" y="596.75" font-size="12.7" text-anchor="end" stroke="#262626" stroke-width="0.3" fill="#262626" >20</text>
<line x1="427.60" y1="620.20" x2="431.90" y2="620.20" stroke="#7c7c7c" stroke-width="1.45" />
<text x="420.70" y="624.75" font-size="12.7" text-anchor="end" stroke="#262626" stroke-width="0.3" fill="#262626" >10</text>
<text x="420.70" y="652.75" font-size="12.7" text-anchor="end" stroke="#262626" stroke-width="0.3" fill="#262626" >0</text>
<text x="431.90" y="667.95" font-size="12.7" text-anchor="middle" stroke="#262626" stroke-width="0.3" fill="#262626" >0</text>
<line x1="472.58" y1="648.20" x2="472.58" y2="652.40" stroke="#7c7c7c" stroke-width="1.45" />
<text x="472.58" y="667.95" font-size="12.7" text-anchor="middle" stroke="#262626" stroke-width="0.3" fill="#262626" >2</text>
<line x1="513.27" y1="648.20" x2="513.27" y2="652.40" stroke="#7c7c7c" stroke-width="1.45" />
<text x="513.27" y="667.95" font-size="12.7" text-anchor="middle" stroke="#262626" stroke-width="0.3" fill="#262626" >4</text>
<line x1="553.95" y1="648.20" x2="553.95" y2="652.40" stroke="#7c7c7c" stroke-width="1.45" />
<text x="553.95" y="667.95" font-size="12.7" text-anchor="middle" stroke="#262626" stroke-width="0.3" fill="#262626" >6</text>
<line x1="594.63" y1="648.20" x2="594.63" y2="652.40" stroke="#7c7c7c" stroke-width="1.45" />
<text x="594.63" y="667.95" font-size="12.7" text-anchor="middle" stroke="#262626" stroke-width="0.3" fill="#262626" >8</text>
<line x1="635.32" y1="648.20" x2="635.32" y2="652.40" stroke="#7c7c7c" stroke-width="1.45" />
<text x="635.32" y="667.95" font-size="12.7" text-anchor="middle" stroke="#262626" stroke-width="0.3" fill="#262626" >10</text>
<line x1="676.00" y1="648.20" x2="676.00" y2="652.40" stroke="#7c7c7c" stroke-width="1.45" />
<text x="676.00" y="667.95" font-size="12.7" text-anchor="middle" stroke="#262626" stroke-width="0.3" fill="#262626" >12</text>
<text transform="translate(377.50,564.10) rotate(-90)" font-size="12.75" text-anchor="middle" font-weight="bold" fill="#000">Concentration [µM]</text>
<text x="553.80" y="685.60" font-size="12.9" text-anchor="middle" font-weight="bold" fill="#000" >Cultivation time [days]</text>
<path d="M431.90,524.40 L513.27,609.60 L594.63,612.00 L604.80,610.40 L676.00,613.00" fill="none" stroke="#000" stroke-width="1.8" stroke-linejoin="round" stroke-linecap="butt"/>
<line x1="431.90" y1="508.60" x2="431.90" y2="538.60" stroke="#000" stroke-width="1.7" />
<line x1="429.40" y1="508.60" x2="434.40" y2="508.60" stroke="#000" stroke-width="1.7" />
<line x1="429.40" y1="538.60" x2="434.40" y2="538.60" stroke="#000" stroke-width="1.7" />
<line x1="513.27" y1="608.60" x2="513.27" y2="610.80" stroke="#000" stroke-width="1.7" />
<line x1="510.77" y1="608.60" x2="515.77" y2="608.60" stroke="#000" stroke-width="1.7" />
<line x1="510.77" y1="610.80" x2="515.77" y2="610.80" stroke="#000" stroke-width="1.7" />
<line x1="594.63" y1="610.40" x2="594.63" y2="613.80" stroke="#000" stroke-width="1.7" />
<line x1="592.13" y1="610.40" x2="597.13" y2="610.40" stroke="#000" stroke-width="1.7" />
<line x1="592.13" y1="613.80" x2="597.13" y2="613.80" stroke="#000" stroke-width="1.7" />
<line x1="604.80" y1="609.80" x2="604.80" y2="611.20" stroke="#000" stroke-width="1.7" />
<line x1="602.30" y1="609.80" x2="607.30" y2="609.80" stroke="#000" stroke-width="1.7" />
<line x1="602.30" y1="611.20" x2="607.30" y2="611.20" stroke="#000" stroke-width="1.7" />
<line x1="676.00" y1="608.00" x2="676.00" y2="618.60" stroke="#000" stroke-width="1.7" />
<line x1="673.50" y1="608.00" x2="678.50" y2="608.00" stroke="#000" stroke-width="1.7" />
<line x1="673.50" y1="618.60" x2="678.50" y2="618.60" stroke="#000" stroke-width="1.7" />
<line x1="432.20" y1="508.60" x2="432.20" y2="538.60" stroke="#000" stroke-width="2.4" />
<path d="M605.20,579.40 L605.20,598.30 M599.20,588.40 L605.20,598.90 L611.20,588.40" fill="none" stroke="#000" stroke-width="2.1" stroke-linejoin="miter" stroke-linecap="butt"/>
<rect x="592.20" y="609.70" width="5" height="4.6" fill="#000"/>
<rect x="602.60" y="609.00" width="5.4" height="3.0" fill="#000"/>
<rect x="511.00" y="607.80" width="5" height="3.6" fill="#000"/>
</g>
</svg>
</body>
</html>
